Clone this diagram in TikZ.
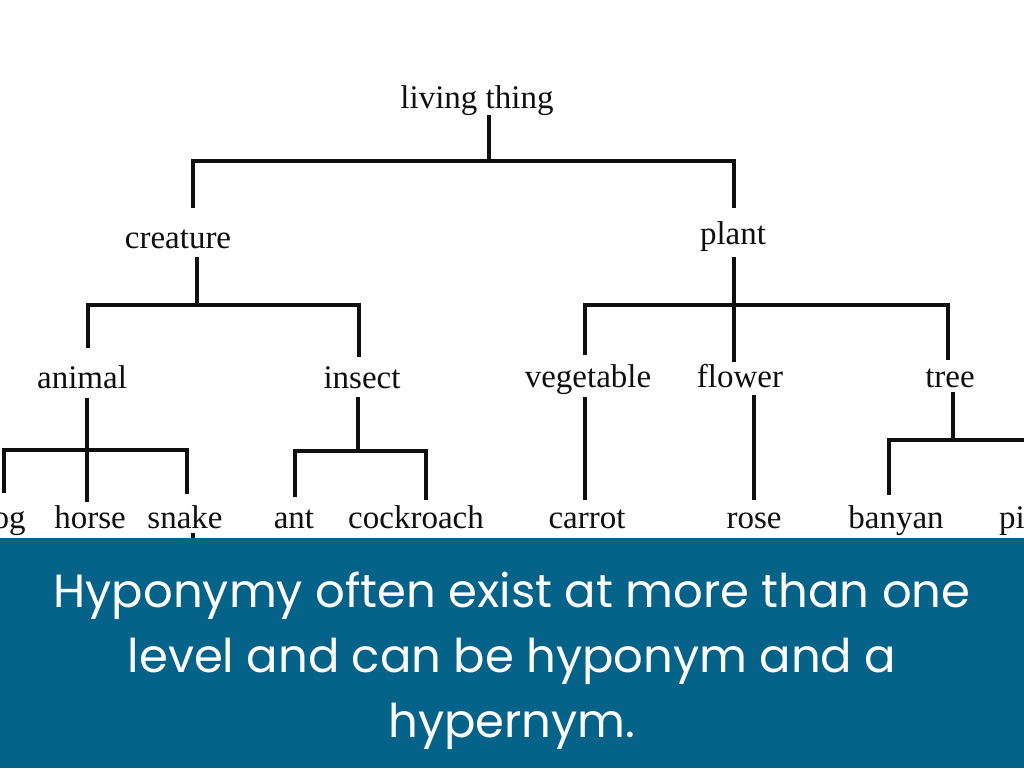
\documentclass[tikz,border=0pt]{standalone}
\usepackage{fontspec}
\setmainfont{Liberation Serif}
\newfontfamily\bandfont{Poppins}
\definecolor{bandblue}{RGB}{5,98,136}
\definecolor{ink}{RGB}{15,15,15}
\begin{document}
\begin{tikzpicture}[x=1pt,y=-1pt,
  term/.style={anchor=base,inner sep=0pt,text=ink,font=\fontsize{33}{33}\selectfont},
  link/.style={draw=ink,line width=3.2pt,line cap=butt,line join=miter},
  caption/.style={anchor=base,inner sep=0pt,text=white,font=\bandfont\fontsize{46.5}{46.5}\selectfont}]
\useasboundingbox (0,0) rectangle (1024,768);
\clip (0,0) rectangle (1024,768);
\fill[white] (0,0) rectangle (1024,768);
% nodes
\node[term] (lt) at (477,108) {living thing};
\node[term] (cr) at (178,248) {creature};
\node[term] (pl) at (733,244) {plant};
\node[term] (an) at (82,388) {animal};
\node[term] (in) at (362,388) {insect};
\node[term] (ve) at (588,387) {vegetable};
\node[term] (fl) at (740,387) {flower};
\node[term] (tr) at (950,387) {tree};
\node[term] (dg) at (1,528) {dog};
\node[term] (ho) at (90,528) {horse};
\node[term] (sn) at (185,528) {snake};
\node[term] (at) at (294,528) {ant};
\node[term] (co) at (416,528) {cockroach};
\node[term] (ca) at (587,528) {carrot};
\node[term] (ro) at (754,528) {rose};
\node[term] (ba) at (896,528) {banyan};
\node[term,anchor=base west] (pi) at (999,528) {pine};
% junction coordinates
\coordinate (ltj) at (489,161);
\coordinate (crj) at (197,305);
\coordinate (plj) at (734,305);
\coordinate (anj) at (87,450);
\coordinate (inj) at (358,451);
\coordinate (trj) at (953,440);
% connectors
\draw[link] (489,115) -- (ltj);
\draw[link] (193,208) |- (ltj) -| (734,208);
\draw[link] (197,257) -- (crj);
\draw[link] (88,348) |- (crj) -| (359,357);
\draw[link] (734,257) -- (plj) -- (734,362);
\draw[link] (585,355) |- (plj) -| (948,360);
\draw[link] (87,398) -- (anj);
\draw[link] (4,493) |- (anj) -| (187,494);
\draw[link] (87,450) -- (87,502);
\draw[link] (358,397) -- (inj);
\draw[link] (295,497) |- (inj) -| (426,500);
\draw[link] (585,397) -- (585,500);
\draw[link] (754,395) -- (754,500);
\draw[link] (953,392) -- (trj);
\draw[link] (889,495) |- (trj) -- (1030,440);
\draw[link] (193,533) -- (193,545);
% caption band
\fill[bandblue] (0,538) rectangle (1024,768);
\node[caption] (c1) at (512,607) {Hyponymy often exist at more than one};
\node[caption] (c2) at (512,672) {level and can be hyponym and a};
\node[caption] (c3) at (512,737) {hypernym.};
\end{tikzpicture}
\end{document}
